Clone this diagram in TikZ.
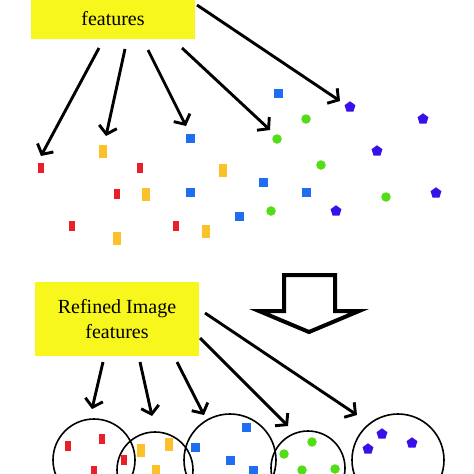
\documentclass[tikz,border=0pt]{standalone}
\usepackage{fontspec}
\setmainfont{Liberation Serif}
\usetikzlibrary{arrows.meta,shapes.geometric}
\definecolor{fyellow}{HTML}{F7F71E}
\definecolor{fred}{HTML}{E8202A}
\definecolor{forange}{HTML}{FBC02A}
\definecolor{fblue}{HTML}{1F6DF0}
\definecolor{fgreen}{HTML}{52DD16}
\definecolor{fviolet}{HTML}{3A10EA}
\tikzset{
 labelbox/.style={fill=fyellow, draw=none, minimum width=164pt, minimum height=74pt, align=center, font=\fontsize{20}{25}\selectfont, inner sep=0},
 redf/.style={rectangle, fill=fred, minimum width=6pt, minimum height=10pt, inner sep=0},
 orf/.style={rectangle, fill=forange, minimum width=8pt, minimum height=13pt, inner sep=0},
 bluf/.style={rectangle, fill=fblue, minimum size=9pt, inner sep=0},
 grnf/.style={circle, fill=fgreen, minimum size=9.5pt, inner sep=0},
 penf/.style={regular polygon, regular polygon sides=5, fill=fviolet, minimum size=11.5pt, inner sep=0},
 clus/.style={circle, draw, line width=1.6pt, inner sep=0},
 pointer/.style={line width=2.9pt, -{Straight Barb[length=7.5pt,width=18pt,line width=2.9pt]}},
}
\begin{document}
\begin{tikzpicture}[x=1pt,y=-1pt]
\path[use as bounding box] (0,0) rectangle (474,474);
\clip (0,0) rectangle (474,474);
\fill[white] (0,0) rectangle (474,474);

% label boxes
\node[labelbox] (top) at (113,2) {Original Image\\[9pt]features};
\node[labelbox] (ref) at (117,319) {Refined Image\\features};

% top scattered features
\node[redf] (r1) at (41,168) {};
\node[redf] (r2) at (140,168) {};
\node[redf] (r3) at (117,194) {};
\node[redf] (r4) at (72,226) {};
\node[redf] (r5) at (176,226) {};
\node[orf] (o1) at (103,151) {};
\node[orf] (o2) at (223,170) {};
\node[orf] (o3) at (146,194) {};
\node[orf] (o4) at (117,238) {};
\node[orf] (o5) at (206,231) {};
\node[bluf] (b1) at (190,138) {};
\node[bluf] (b2) at (190,192) {};
\node[bluf] (b3) at (239,216) {};
\node[bluf] (b4) at (278,93) {};
\node[bluf] (b5) at (263,182) {};
\node[bluf] (b6) at (306,192) {};
\node[grnf] (g1) at (306,119) {};
\node[grnf] (g2) at (277,139) {};
\node[grnf] (g3) at (321,165) {};
\node[grnf] (g4) at (386,197) {};
\node[grnf] (g5) at (271,211) {};
\node[penf] (p1) at (350,107) {};
\node[penf] (p2) at (423,119) {};
\node[penf] (p3) at (377,151) {};
\node[penf] (p4) at (436,193) {};
\node[penf] (p5) at (336,211) {};

% top arrows
\coordinate (ts1) at (99,48);  \coordinate (tt1) at (41,156);
\coordinate (ts2) at (125,49); \coordinate (tt2) at (106,136);
\coordinate (ts3) at (148,50); \coordinate (tt3) at (186,126);
\coordinate (ts4) at (182,48); \coordinate (tt4) at (270,130);
\coordinate (ts5) at (197,5);  \coordinate (tt5) at (340,101);
\draw[pointer] (ts1) -- (tt1);
\draw[pointer] (ts2) -- (tt2);
\draw[pointer] (ts3) -- (tt3);
\draw[pointer] (ts4) -- (tt4);
\draw[pointer] (ts5) -- (tt5);

% big down arrow
\draw[line width=4pt, line join=miter] (284,275) -- (335,275) -- (335,311) -- (359,311) -- (309,332) -- (259,311) -- (284,311) -- cycle;

% clusters
\node[clus, minimum size=82pt] (c1) at (94,460) {};
\node[clus, minimum size=76pt] (c2) at (155,470) {};
\node[clus, minimum size=92pt] (c3) at (230,460) {};
\node[clus, minimum size=74pt] (c4) at (308,468) {};
\node[clus, minimum size=92pt] (c5) at (398,460) {};

\node[redf] (cr1) at (68,446) {};
\node[redf] (cr2) at (102,439) {};
\node[redf] (cr3) at (94,471) {};
\node[redf] (cr4) at (124,460) {};
\node[orf] (co1) at (141,450) {};
\node[orf] (co2) at (169,444) {};
\node[orf] (co3) at (156,471) {};
\node[bluf] (cb1) at (195,447) {};
\node[bluf] (cb2) at (246,427) {};
\node[bluf] (cb3) at (230,460) {};
\node[bluf] (cb4) at (253,470) {};
\node[grnf] (cg1) at (284,454) {};
\node[grnf] (cg2) at (312,442) {};
\node[grnf] (cg3) at (302,470) {};
\node[grnf] (cg4) at (335,469) {};
\node[penf] (cp1) at (368,449) {};
\node[penf] (cp2) at (382,434) {};
\node[penf] (cp3) at (412,443) {};

% bottom arrows
\coordinate (bs1) at (103,362); \coordinate (bt1) at (92,409);
\coordinate (bs2) at (140,362); \coordinate (bt2) at (152,416);
\coordinate (bs3) at (177,362); \coordinate (bt3) at (204,415);
\coordinate (bs4) at (200,338); \coordinate (bt4) at (288,426);
\coordinate (bs5) at (205,313); \coordinate (bt5) at (357,415);
\draw[pointer] (bs1) -- (bt1);
\draw[pointer] (bs2) -- (bt2);
\draw[pointer] (bs3) -- (bt3);
\draw[pointer] (bs4) -- (bt4);
\draw[pointer] (bs5) -- (bt5);
\end{tikzpicture}
\end{document}
